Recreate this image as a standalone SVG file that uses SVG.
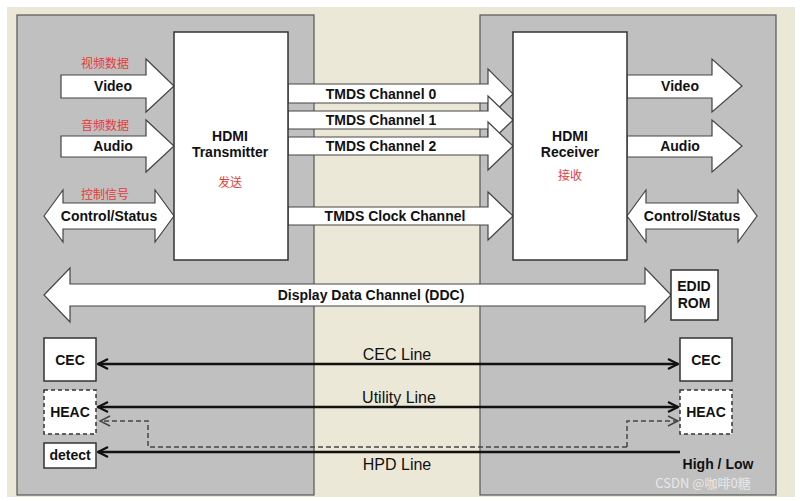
<svg xmlns="http://www.w3.org/2000/svg" width="801" height="501" viewBox="0 0 801 501">
<defs>
<style>
.b{font-family:"Liberation Sans",Arial,sans-serif;font-weight:bold;font-size:14px;fill:#111;text-anchor:middle}
.r{font-family:"Liberation Sans",Arial,sans-serif;font-size:16px;fill:#111;text-anchor:middle}
.cn{font-family:"Noto Sans CJK SC",sans-serif;font-size:12px;fill:#e83a3a;text-anchor:middle}
.ar{fill:#fff;stroke:#444;stroke-width:1.2}
.box{fill:#fff;stroke:#333;stroke-width:1.5}
.dbox{fill:#fff;stroke:#333;stroke-width:1.5;stroke-dasharray:4 3}
.ln{stroke:#111;stroke-width:2.5;fill:none}
.dl{stroke:#444;stroke-width:1.5;fill:none;stroke-dasharray:5 3}
</style>
<marker id="a" viewBox="0 0 12 12" refX="11" refY="6" markerWidth="12" markerHeight="12" markerUnits="userSpaceOnUse" orient="auto-start-reverse"><path d="M1,1 L11,6 L1,11" fill="none" stroke="#111" stroke-width="2.2"/></marker>
<marker id="ad" viewBox="0 0 12 12" refX="11" refY="6" markerWidth="12" markerHeight="12" markerUnits="userSpaceOnUse" orient="auto"><path d="M1,1 L11,6 L1,11" fill="none" stroke="#444" stroke-width="1.5"/></marker>
</defs>
<rect x="0" y="0" width="801" height="501" fill="#fff"/>
<rect x="7" y="7" width="788" height="490" fill="#ece8d8"/>
<rect x="17" y="15" width="297" height="480" fill="#c0c0c0" stroke="#555" stroke-width="1.2"/>
<rect x="480" y="15" width="296" height="480" fill="#c0c0c0" stroke="#555" stroke-width="1.2"/>
<g id="connectors">
<path class="ar" d="M61,75 H146 V59 L174,86 L146,112 V98 H61 Z"/>
<path class="ar" d="M61,136 H146 V120 L174,146 L146,172 V157 H61 Z"/>
<path class="ar" d="M44,216 L63,190 V203 H155 V190 L174,216 L155,242 V229 H63 V242 Z"/>
<path class="ar" d="M288,84 H488 V69 L513,94 L488,118 V103 H288 Z"/>
<path class="ar" d="M288,111 H488 V96 L513,120 L488,144 V129 H288 Z"/>
<path class="ar" d="M288,137 H488 V122 L513,146 L488,170 V155 H288 Z"/>
<path class="ar" d="M288,207 H488 V192 L513,216 L488,240 V225 H288 Z"/>
<path class="ar" d="M627,75 H712 V59 L742,86 L712,112 V98 H627 Z"/>
<path class="ar" d="M627,136 H712 V120 L742,146 L712,172 V157 H627 Z"/>
<path class="ar" d="M627,216 L646,190 V203 H738 V190 L757,216 L738,242 V229 H646 V242 Z"/>
<path class="ar" d="M44,295 L70,268 V284 H645 V268 L671,295 L645,322 V306 H70 V322 Z"/>
<line class="ln" x1="98" y1="364" x2="678" y2="364" marker-start="url(#a)" marker-end="url(#a)"/>
<line class="ln" x1="98" y1="407" x2="678" y2="407" marker-start="url(#a)" marker-end="url(#a)"/>
<line class="ln" x1="680" y1="452" x2="98" y2="452" marker-end="url(#a)"/>
<polyline class="dl" points="627,447 148,447 148,421 100,421" marker-end="url(#ad)"/>
<polyline class="dl" points="627,447 627,421 678,421" marker-end="url(#ad)"/>
</g>
<text class="cn" x="105" y="68">视频数据</text>
<text class="b" x="113" y="91">Video</text>
<text class="cn" x="105" y="130">音频数据</text>
<text class="b" x="113" y="151">Audio</text>
<text class="cn" x="105" y="199">控制信号</text>
<text class="b" x="109" y="221">Control/Status</text>
<text class="b" x="381" y="99">TMDS Channel 0</text>
<text class="b" x="381" y="125">TMDS Channel 1</text>
<text class="b" x="381" y="151">TMDS Channel 2</text>
<text class="b" x="395" y="221">TMDS Clock Channel</text>
<text class="b" x="680" y="91">Video</text>
<text class="b" x="680" y="151">Audio</text>
<text class="b" x="692" y="221">Control/Status</text>
<text class="b" x="371" y="300">Display Data Channel (DDC)</text>
<text class="r" x="397" y="360">CEC Line</text>
<text class="r" x="399" y="403">Utility Line</text>
<text class="r" x="397" y="470">HPD Line</text>
<text class="b" x="718" y="469">High / Low</text>
<g id="tx"><rect class="box" x="174" y="32" width="114" height="228"/>
<text class="b" x="230" y="141">HDMI</text><text class="b" x="230" y="157">Transmitter</text>
<text class="cn" x="230" y="187">发送</text></g>
<g id="rx"><rect class="box" x="513" y="32" width="114" height="228"/>
<text class="b" x="570" y="141">HDMI</text><text class="b" x="570" y="157">Receiver</text>
<text class="cn" x="570" y="180">接收</text></g>
<g id="edid"><rect class="box" x="671" y="270" width="47" height="50"/>
<text class="b" x="694" y="291">EDID</text><text class="b" x="694" y="308">ROM</text></g>
<g id="cecL"><rect class="box" x="44" y="338" width="52" height="43"/><text class="b" x="70" y="365">CEC</text></g>
<g id="heacL"><rect class="dbox" x="44" y="390" width="52" height="44"/><text class="b" x="70" y="417">HEAC</text></g>
<g id="detect"><rect class="box" x="44" y="443" width="52" height="25"/><text class="b" x="70" y="460">detect</text></g>
<g id="cecR"><rect class="box" x="680" y="338" width="52" height="43"/><text class="b" x="706" y="365">CEC</text></g>
<g id="heacR"><rect class="dbox" x="680" y="390" width="52" height="44"/><text class="b" x="706" y="417">HEAC</text></g>
<text x="703" y="488" font-family="'Noto Sans CJK SC',sans-serif" font-size="13" fill="#e8e8e8" text-anchor="middle">CSDN @咖啡0糖</text>
</svg>
